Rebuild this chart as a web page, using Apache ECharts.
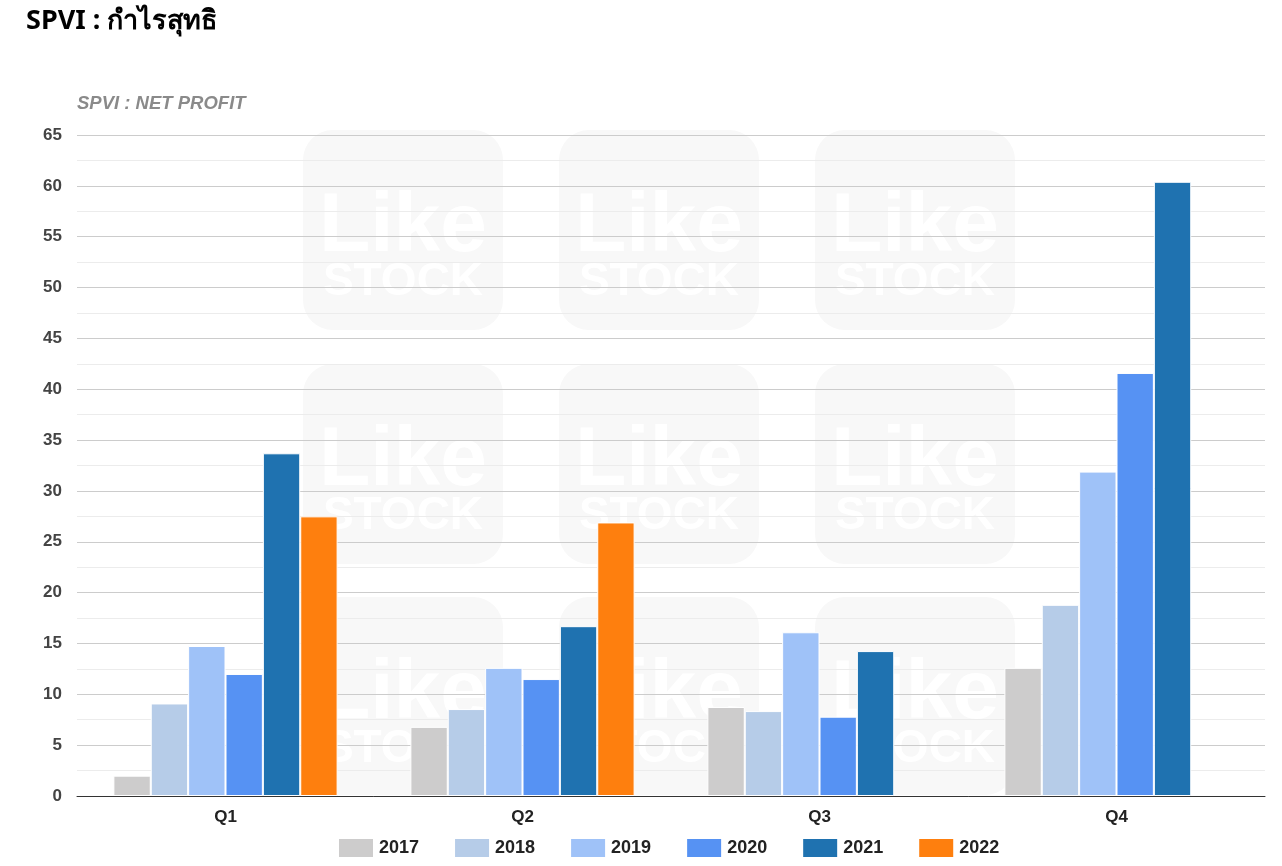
<!DOCTYPE html>
<html><head><meta charset="utf-8">
<script src="https://cdn.jsdelivr.net/npm/echarts@6/dist/echarts.min.js"></script>
<style>html,body{margin:0;padding:0;background:#fff}#c{width:1282px;height:866px}</style>
</head><body><div id="c"></div>
<script>
const categories = ['Q1','Q2','Q3','Q4'];
const years = ['2017','2018','2019','2020','2021','2022'];
const v2017 = [2.0, 6.8, 8.75, 12.6];
const v2018 = [9.1, 8.55, 8.35, 18.8];
const v2019 = [14.75, 12.6, 16.1, 31.9];
const v2020 = [12.0, 11.5, 7.8, 41.6];
const v2021 = [33.7, 16.7, 14.25, 60.4];
const v2022 = [27.5, 26.9, null, null];
const yTicks = [0,5,10,15,20,25,30,35,40,45,50,55,60,65];
const colors = ['#cdcccc','#b6cce8','#9fc2f8','#5692f3','#1f72b0','#fe7f0e'];
const seriesData = [v2017, v2018, v2019, v2020, v2021, v2022];

// decorative watermark tiles
const wmCols = [303, 559, 815];
const wmRows = [130, 364, 597];
const wm = [];
wmRows.forEach((y, ri) => wmCols.forEach(x => {
  const h = ri === 2 ? 198 : 200;
  wm.push({type: 'group', left: x, top: y, z: -10, silent: true, children: [
    {type: 'rect', shape: {x: 0, y: 0, width: 200, height: h, r: 30}, style: {fill: '#f8f8f8'}, z: -10},
    {type: 'text', x: 100, y: 98, style: {text: 'Like', fill: '#ffffff', font: 'bold 84px "Liberation Sans", Arial', align: 'center', verticalAlign: 'middle'}, z: -9},
    {type: 'text', x: 100, y: 152, style: {text: 'STOCK', fill: '#ffffff', font: 'bold 46px "Liberation Sans", Arial', align: 'center', verticalAlign: 'middle'}, z: -9}
  ]});
}));

const chart = echarts.init(document.getElementById('c'));
chart.setOption({
  animation: false,
  graphic: wm,
  title: [
    {text: 'SPVI : กำไรสุทธิ', left: 26, top: 8, padding: 0,
     textStyle: {fontSize: 27, fontWeight: 'bold', color: '#000', fontFamily: 'Noto Sans, sans-serif'}},
    {text: 'SPVI : NET PROFIT', left: 77, top: 94, padding: 0,
     textStyle: {fontSize: 18.5, fontWeight: 'bold', fontStyle: 'italic', color: '#8a8a8a', fontFamily: 'Liberation Sans, Arial, sans-serif'}}
  ],
  grid: {left: 77, right: 17, top: 135, bottom: 70, containLabel: false},
  legend: {
    bottom: 2, left: 332, itemWidth: 36, itemHeight: 20, itemGap: 34,
    icon: 'rect',
    textStyle: {fontSize: 18, fontWeight: 'bold', color: '#222', fontFamily: 'Liberation Sans, Arial, sans-serif'},
    data: years
  },
  xAxis: {
    type: 'category', data: categories,
    axisLine: {lineStyle: {color: '#333', width: 1}},
    axisTick: {show: false},
    axisLabel: {fontSize: 17, fontWeight: 'bold', color: '#222', margin: 13, fontFamily: 'Liberation Sans, Arial, sans-serif'}
  },
  yAxis: {
    type: 'value', min: yTicks[0], max: yTicks[yTicks.length-1], interval: 5,
    axisLine: {show: false}, axisTick: {show: false},
    axisLabel: {fontSize: 17, fontWeight: 'bold', color: '#444', margin: 15, fontFamily: 'Liberation Sans, Arial, sans-serif'},
    splitLine: {lineStyle: {color: '#cccccc', width: 1}},
    minorTick: {show: false, splitNumber: 2},
    minorSplitLine: {show: true, lineStyle: {color: '#ececec', width: 1}}
  },
  series: seriesData.map((d, i) => ({
    name: years[i], type: 'bar', data: d,
    barGap: '0%', barCategoryGap: '24.5%',
    itemStyle: {color: colors[i], borderColor: '#fff', borderWidth: 1}
  }))
});
</script></body></html>
